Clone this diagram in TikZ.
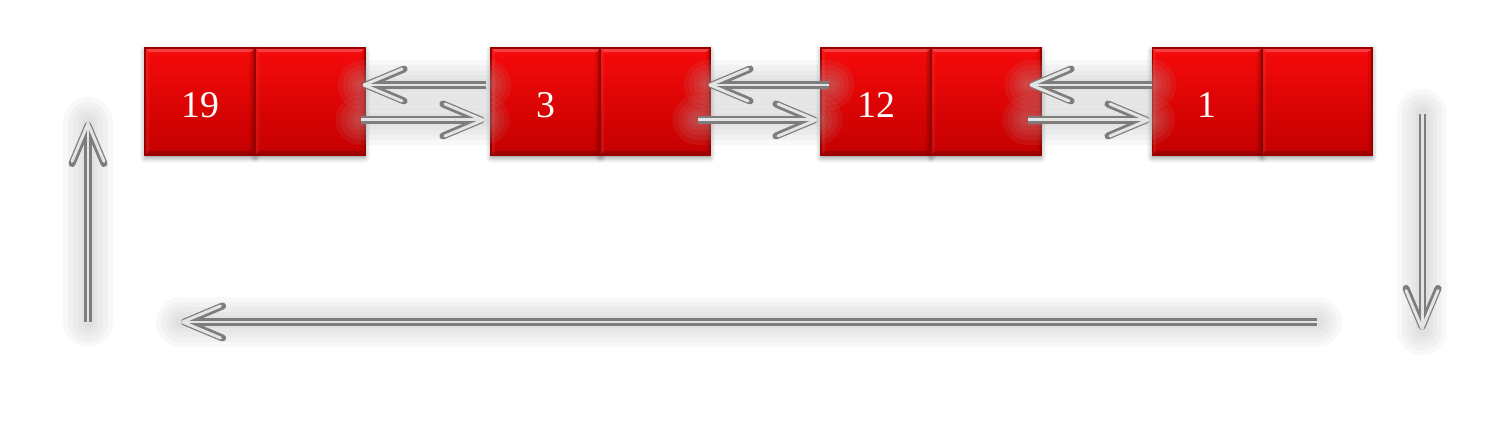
\documentclass[tikz,border=0pt]{standalone}
\usepackage{fontspec}
\setmainfont{Liberation Serif}
\usetikzlibrary{arrows.meta,shadows.blur}
\pgfdeclarelayer{glowl}
\pgfdeclarelayer{front}
\pgfsetlayers{main,glowl,front}
\definecolor{redtop}{RGB}{246,10,10}
\definecolor{redbot}{RGB}{196,0,0}
\definecolor{redline}{RGB}{150,0,0}
\definecolor{steeldark}{RGB}{125,125,125}
\definecolor{steellight}{RGB}{228,228,228}
\definecolor{glowgray}{RGB}{175,175,175}
\tikzset{
  cell/.style={rectangle, minimum width=2.2cm, minimum height=2.14cm, inner sep=0pt,
    top color=redtop, bottom color=redbot, draw=redline, line width=0.6pt,
    text=white, font=\fontsize{21.5}{25}\selectfont, text height=18pt, text depth=0pt,
    blur shadow={shadow xshift=0pt, shadow yshift=-1.5pt, shadow blur radius=3pt, shadow opacity=45},
    path picture={
      \coordinate (pa) at (path picture bounding box.north west);
      \coordinate (pb) at (path picture bounding box.north east);
      \coordinate (pc) at (path picture bounding box.south east);
      \coordinate (pd) at (path picture bounding box.south west);
      \fill[white, opacity=0.22] (pa) -- (pb) -- ([xshift=-0.08cm,yshift=-0.08cm]pb) -- ([xshift=0.08cm,yshift=-0.08cm]pa) -- cycle;
      \fill[black, opacity=0.18] (pd) -- (pc) -- ([xshift=-0.08cm,yshift=0.08cm]pc) -- ([xshift=0.08cm,yshift=0.08cm]pd) -- cycle;
      \fill[black, opacity=0.08] (pb) -- (pc) -- ([xshift=-0.08cm,yshift=0.08cm]pc) -- ([xshift=-0.08cm,yshift=-0.08cm]pb) -- cycle;
      \fill[white, opacity=0.06] (pa) -- (pd) -- ([xshift=0.08cm,yshift=0.08cm]pd) -- ([xshift=0.08cm,yshift=-0.08cm]pa) -- cycle;
    }},
  silverbase/.style={draw=steeldark, line width=4pt, -{Straight Barb[length=0.76cm,width=0.64cm,round]}},
  silverhi/.style={draw=steellight, line width=1.7pt, -{Straight Barb[length=0.76cm,width=0.64cm,round]}},
  glowline/.style={draw=glowgray, opacity=0.09, line width=#1, line cap=round}
}
\newcommand\silverarrow[2]{%
  \begin{pgfonlayer}{glowl}
    \foreach \gw in {1.0cm,0.8cm,0.6cm,0.42cm,0.26cm}{\draw[glowline=\gw] #1 -- #2;}
  \end{pgfonlayer}
  \begin{pgfonlayer}{front}
    \draw[silverbase] #1 -- #2;
    \draw[silverhi] #1 -- #2;
  \end{pgfonlayer}}
\begin{document}
\begin{tikzpicture}[x=0.02cm, y=-0.02cm]
\useasboundingbox (0,0) rectangle (1510,425);
% boxes
\node[cell] (n19a) at (200,101.5) {19};
\node[cell] (n19b) at (310,101.5) {};
\node[cell] (n3a)  at (546,101.5) {3};
\node[cell] (n3b)  at (655,101.5) {};
\node[cell] (n12a) at (876,101.5) {12};
\node[cell] (n12b) at (986,101.5) {};
\node[cell] (n1a)  at (1207,101.5) {1};
\node[cell] (n1b)  at (1317,101.5) {};
% free ends of the ring arrows
\coordinate (lb) at (88,322);
\coordinate (lt) at (88,122);
\coordinate (rt) at (1422,114);
\coordinate (rb) at (1422,330);
\coordinate (bR) at (1317,322);
\coordinate (bL) at (181,322);
% links
\silverarrow{([xshift=-0.08cm,yshift=0.33cm]n3a.west)}{([xshift=-0.06cm,yshift=0.33cm]n19b.east)}
\silverarrow{([xshift=-0.1cm,yshift=-0.37cm]n19b.east)}{([xshift=-0.12cm,yshift=-0.37cm]n3a.west)}
\silverarrow{([xshift=0.18cm,yshift=0.33cm]n12a.west)}{([xshift=-0.04cm,yshift=0.33cm]n3b.east)}
\silverarrow{([xshift=-0.26cm,yshift=-0.37cm]n3b.east)}{([xshift=-0.06cm,yshift=-0.37cm]n12a.west)}
\silverarrow{([xshift=0cm,yshift=0.33cm]n1a.west)}{([xshift=-0.24cm,yshift=0.33cm]n12b.east)}
\silverarrow{([xshift=-0.28cm,yshift=-0.37cm]n12b.east)}{([xshift=-0.04cm,yshift=-0.37cm]n1a.west)}
% ring
\silverarrow{(rt)}{(rb)}
\silverarrow{(bR)}{(bL)}
\silverarrow{(lb)}{(lt)}
\end{tikzpicture}
\end{document}
